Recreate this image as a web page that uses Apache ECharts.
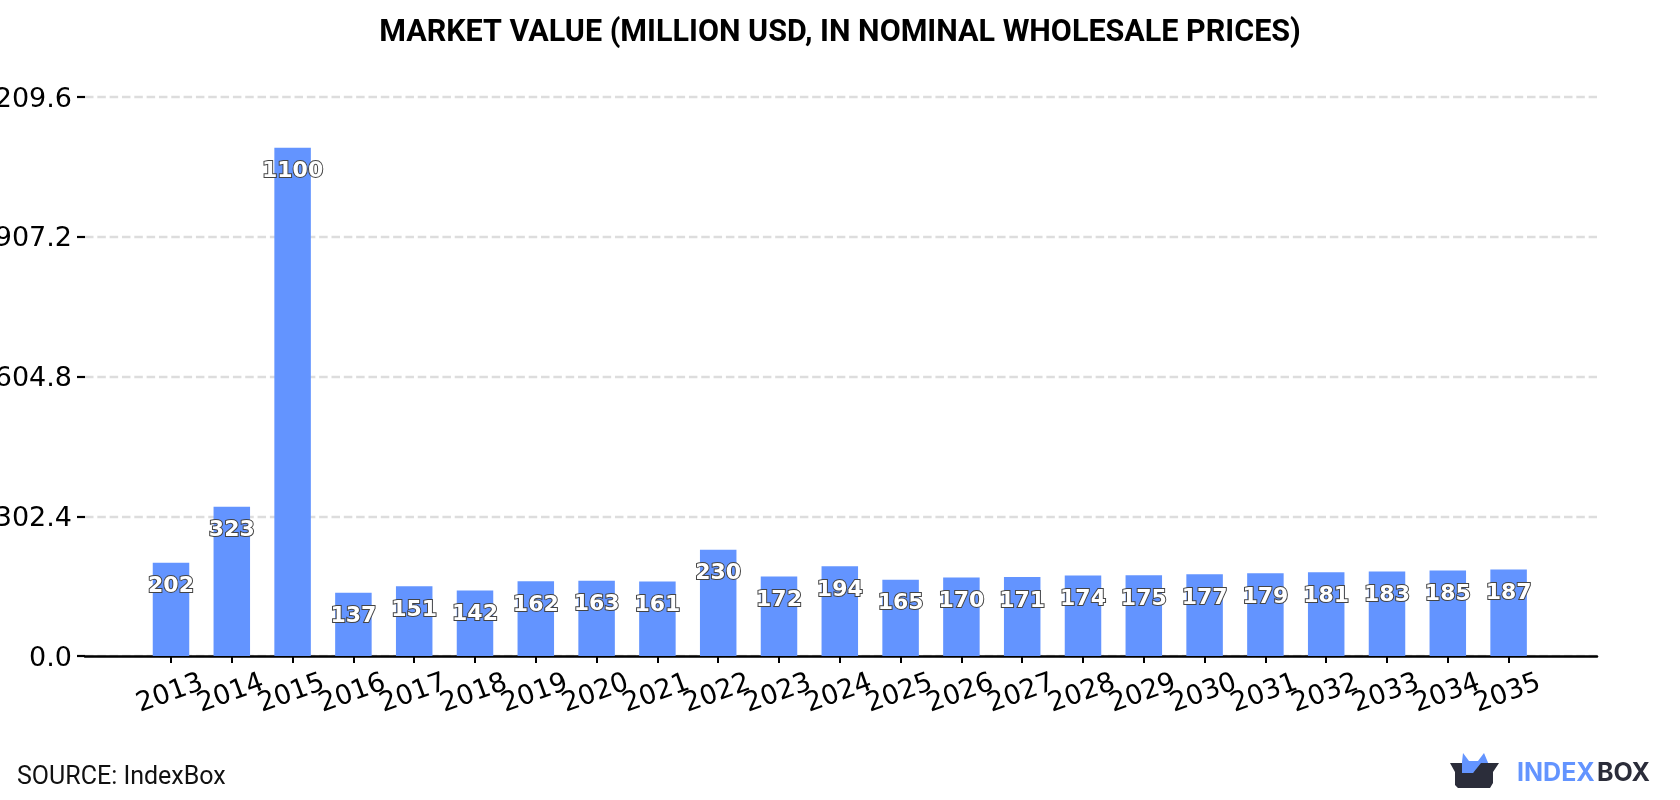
<!DOCTYPE html>
<html>
<head>
<meta charset="utf-8">
<style>html,body{margin:0;padding:0;background:#fff}#chart{width:1680px;height:800px}</style>
<script src="https://cdn.jsdelivr.net/npm/echarts@6/dist/echarts.min.js"></script>
</head>
<body>
<div id="chart"></div>
<script>
const years = ['2013','2014','2015','2016','2017','2018','2019','2020','2021','2022','2023','2024','2025','2026','2027','2028','2029','2030','2031','2032','2033','2034','2035'];
const marketValues = [202,323,1100,137,151,142,162,163,161,230,172,194,165,170,171,174,175,177,179,181,183,185,187];
const yMax = 1209.6;
const yStep = 302.4;
const titleText = 'MARKET VALUE (MILLION USD, IN NOMINAL WHOLESALE PRICES)';
const sourceText = 'SOURCE: IndexBox';

const chart = echarts.init(document.getElementById('chart'), null, {renderer: 'canvas'});
chart.setOption({
  animation: false,
  backgroundColor: '#fff',
  title: {
    text: titleText, left: 835, top: 13, textAlign: 'center',
    textStyle: {fontFamily: 'Roboto', fontWeight: 'bold', fontSize: 30.5, color: '#000'}
  },
  // Outer grid carries the frame: value ticks, dashed rules and the long baseline.
  // Inner grid holds the year bands, inset from the frame on both sides.
  grid: [
    {left: 85, right: 83, top: 97, bottom: 144, containLabel: false, outerBoundsMode: 'none'},
    {left: 140.6, width: 1398.4, top: 97, bottom: 144, containLabel: false, outerBoundsMode: 'none'}
  ],
  xAxis: [
    {
      gridIndex: 0, type: 'value', min: 0, max: 1,
      splitLine: {show: false}, axisTick: {show: false}, axisLabel: {show: false},
      axisLine: {show: true, onZero: false, lineStyle: {color: '#000', width: 2.5}}
    },
    {
      gridIndex: 1, type: 'category', data: years,
      axisLine: {show: false},
      axisTick: {show: true, alignWithLabel: true, length: 7, lineStyle: {color: '#000', width: 2}},
      axisLabel: {
        interval: 0, rotate: 20, align: 'center', verticalAlign: 'top', margin: 23,
        padding: [0, 12, 0, 0], hideOverlap: false,
        fontFamily: 'DejaVu Sans', fontSize: 27, color: '#000'
      }
    }
  ],
  yAxis: [
    {
      gridIndex: 0, type: 'value', min: 0, max: yMax, interval: yStep,
      axisLine: {show: false},
      axisTick: {show: true, length: 8, lineStyle: {color: '#000', width: 2.2}},
      splitLine: {show: true, lineStyle: {color: '#dddddd', width: 2.4, type: [8.5, 3.825]}},
      axisLabel: {
        margin: 13, verticalAlign: 'top', padding: [-11, 0, 0, 0],
        fontFamily: 'DejaVu Sans', fontSize: 27, color: '#000',
        formatter: v => v.toFixed(1)
      }
    },
    {
      gridIndex: 1, type: 'value', min: 0, max: yMax, interval: yStep, show: false,
      splitLine: {show: false}
    }
  ],
  series: [{
    type: 'bar',
    xAxisIndex: 1,
    yAxisIndex: 1,
    barWidth: 36.5,
    z: 3,
    itemStyle: {color: '#6394ff'},
    data: marketValues,
    label: {
      show: true, position: 'insideTop', distance: 13,
      fontFamily: 'DejaVu Sans', fontWeight: 'bold', fontSize: 22,
      color: '#fff', textBorderColor: '#444', textBorderWidth: 2
    }
  }],
  graphic: [
    {type: 'text', left: 17, top: 765, style: {text: sourceText, font: '25px Roboto', fill: '#111'}},
    // brand mark: blue lid behind a dark box
    {type: 'polygon', shape: {points: [[1462,762],[1463,753],[1469,761],[1478,761],[1484,753],[1489,765],[1473,773],[1462,773]]}, style: {fill: '#6394ff'}},
    {type: 'polygon', shape: {points: [[1450,763],[1462,763],[1462,773],[1473,773],[1481,763],[1499,763],[1493,772],[1493,783],[1490,788],[1458,788],[1455,785],[1455,772]]}, style: {fill: '#2b2d3a'}},
    {type: 'text', left: 1517, top: 761, style: {text: 'INDEX', font: 'bold 25px Inter', fill: '#6394ff'}},
    {type: 'text', left: 1597, top: 761, style: {text: 'BOX', font: 'bold 25px Inter', fill: '#2b2d3a'}}
  ]
});
</script>
</body>
</html>
